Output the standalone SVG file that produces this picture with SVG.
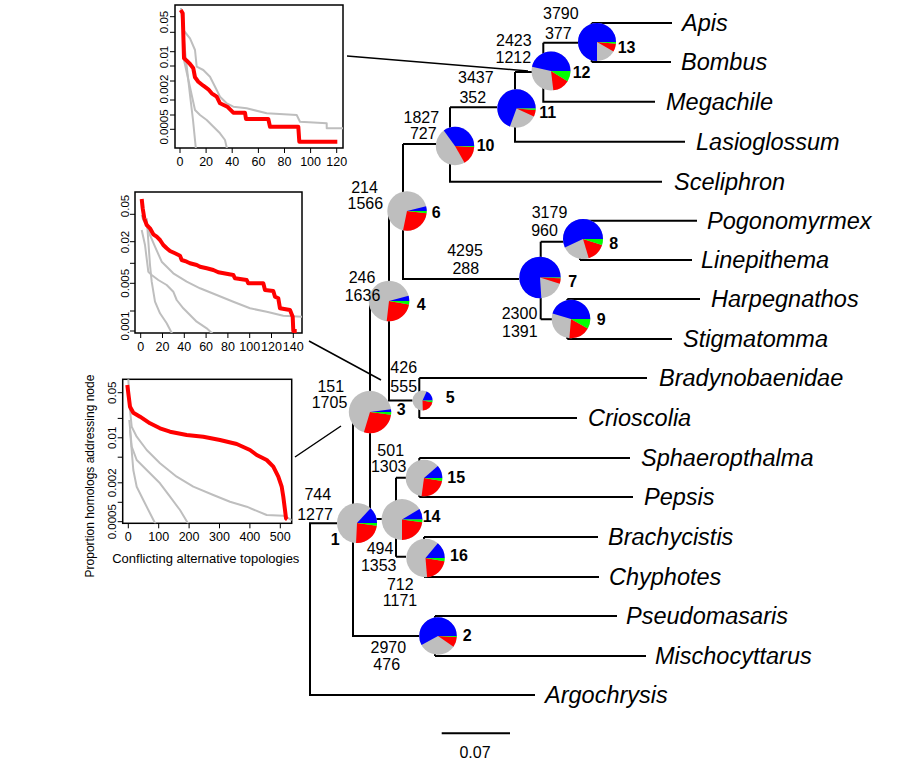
<svg xmlns="http://www.w3.org/2000/svg" width="915" height="764" viewBox="0 0 915 764">
<style>
text{font-family:"Liberation Sans",Arial,sans-serif;fill:#000}
.n{font-size:16px;text-anchor:middle}
.id{font-size:16px;font-weight:bold}
.tip{font-size:23.5px;font-style:italic}
.ax{font-size:12.5px;text-anchor:middle}
.ay{font-size:11.5px;text-anchor:middle}
.edge{fill:none;stroke:#000;stroke-width:2}
.thin{fill:none;stroke:#000;stroke-width:1.5}
.box{fill:#fff;stroke:#000;stroke-width:1.5}
.tk{fill:none;stroke:#000;stroke-width:1}
.gc{fill:none;stroke:#bebebe;stroke-width:2;stroke-linejoin:round}
.rc{fill:none;stroke:#ff0000;stroke-width:4;stroke-linejoin:round}
.pg{fill:#bebebe}
.pb{fill:none;stroke:#0000ff}
.pr{fill:none;stroke:#ff0000}
.pn{fill:none;stroke:#00ff00}
</style>
<defs>
<clipPath id="c1"><rect x="175" y="5" width="168" height="143"/></clipPath>
<clipPath id="c2"><rect x="135" y="192" width="167" height="141"/></clipPath>
<clipPath id="c3"><rect x="122.7" y="379.3" width="169" height="144"/></clipPath>
</defs>
<rect width="915" height="764" fill="#fff"/>

<!-- insets -->
<g id="inset1">
<rect class="box" x="175" y="5" width="168" height="143"/>
<g clip-path="url(#c1)">
<polyline class="gc" points="181,8 183,30 186,60 190,95 193,120 196,150"/>
<polyline class="gc" points="183.3,30 190,38.3 195,50 196.7,66.7 203.3,70 210,76.7 216.7,90 220,96.7 226.7,103.3 233.3,106.7 246.7,108.3 266.7,113.3 296.7,115 300,121.7 326.7,123.3 326.7,128.3 345,128.3"/>
<polyline class="gc" points="184,60 195,110 200,115 206.7,120 211.7,125 220,133.3 225,140 227.3,150"/>
<polyline class="rc" points="180.7,10 182.7,13.3 184,58.3 186.7,60.7 190,64 193.3,68.3 195,77.3 198.3,81.7 203.3,85.7 208.3,89.3 211.7,93.3 216.7,96.7 220,103.3 227.3,106.7 233.3,112.7 245,112.7 246,119 268.3,119 270,126.7 298.3,126.7 299.3,141.7 337.3,141.7"/>
</g>
<path class="tk" d="M175,16.7h-5M175,32.3h-5M175,51.7h-5M175,66h-5M175,81h-5M175,100h-5M175,115h-5M175,129.3h-5M180,148v5M206.1,148v5M232.2,148v5M258.4,148v5M284.5,148v5M310.6,148v5M336.7,148v5"/>
<text class="ay" transform="translate(168,22) rotate(-90)">0.05</text>
<text class="ay" transform="translate(168,57) rotate(-90)">0.01</text>
<text class="ay" transform="translate(168,89) rotate(-90)">0.002</text>
<text class="ay" transform="translate(168,127) rotate(-90)">0.0005</text>
<text class="ax" x="180" y="166">0</text><text class="ax" x="206.1" y="166">20</text><text class="ax" x="232.2" y="166">40</text><text class="ax" x="258.4" y="166">60</text><text class="ax" x="284.5" y="166">80</text><text class="ax" x="310.6" y="166">100</text><text class="ax" x="336.7" y="166">120</text>
</g>

<g id="inset2">
<rect class="box" x="135" y="192" width="167" height="141"/>
<g clip-path="url(#c2)">
<polyline class="gc" points="141.7,215 143.3,220 146.7,225 150,235 155,246.7 161.7,261.7 173.3,273.3 186.7,281.7 200,288.3 216.7,295 233.3,301.7 250,308.3 266.7,311.7 283.3,315.7 303,316.7"/>
<polyline class="gc" points="141.7,230 145,245 148.3,271.7 151.7,275 158.3,280 166.7,285 173.3,291.7 176.7,300 183.3,308.3 196.7,321.7 206.7,328.3 215,336"/>
<polyline class="gc" points="146.7,218.3 150,265 151.7,281.7 155,301.7 160,313.3 166.7,323.3 173.3,336"/>
<polyline class="rc" points="141.7,199 142.7,208.3 144.3,218.3 146.7,225 150,228.3 153.3,234.3 156.7,236.7 160,240 163.3,245 166.7,248.3 170,251 175,253.3 180,255.7 181.7,260 186.7,261.7 190,263.3 196.7,265 200,266.7 206.7,268.3 213.3,270 218.3,272.3 233.3,275 235,278.3 246.7,280 248.3,283.3 263.3,283.3 265,290 273.3,291 275,296.7 278.3,298.3 280,308.3 290,310 292.7,316.7 293.3,331 296.7,331"/>
</g>
<path class="tk" d="M135,214.3h-5M135,241.7h-5M135,263.3h-5M135,283.3h-5M135,311h-5M135,331h-5M140.7,333v5M162.5,333v5M184.3,333v5M206.1,333v5M227.9,333v5M249.7,333v5M271.5,333v5M293.3,333v5"/>
<text class="ay" transform="translate(129,206) rotate(-90)">0.05</text>
<text class="ay" transform="translate(129,242) rotate(-90)">0.02</text>
<text class="ay" transform="translate(129,283.3) rotate(-90)">0.005</text>
<text class="ay" transform="translate(129,326) rotate(-90)">0.001</text>
<text class="ax" x="140.7" y="351">0</text><text class="ax" x="162.5" y="351">20</text><text class="ax" x="184.3" y="351">40</text><text class="ax" x="206.1" y="351">60</text><text class="ax" x="227.9" y="351">80</text><text class="ax" x="249.7" y="351">100</text><text class="ax" x="271.5" y="351">120</text><text class="ax" x="293.3" y="351">140</text>
</g>

<g id="inset3">
<rect class="box" x="122.7" y="379.3" width="169" height="144"/>
<g clip-path="url(#c3)">
<polyline class="gc" points="128.3,378 129.3,403.3 131.7,426.7 136.7,436.7 146.7,450 160,463.3 176.7,476.7 193.3,486.7 213.3,495 230,501.7 246.7,506.7 266.7,515 283.3,515.7 292,520"/>
<polyline class="gc" points="129.3,420 131.7,446.7 136.7,460 146.7,470 160,483.3 170,496.7 180,510 189,525"/>
<polyline class="gc" points="130,430 133.3,470 136.7,486.7 143.3,500 150,513.3 156,525"/>
<polyline class="rc" points="127.3,385 130,406.7 133.3,412.7 140,416.7 150,423.3 160,428.3 170,431.7 186.7,435 203.3,436.7 220,440 236.7,444 250,450 256.7,455 266.7,460 273.3,466.7 278.3,476.7 281.7,486.7 283.3,496.7 285,510 286,518.3 287.3,519.3"/>
</g>
<path class="tk" d="M122.7,392.7h-5M122.7,418.4h-5M122.7,437.8h-5M122.7,457.2h-5M122.7,482.8h-5M122.7,502.3h-5M122.7,521.7h-5M128.3,523.3v5M158.7,523.3v5M189.1,523.3v5M219.5,523.3v5M249.9,523.3v5M280.3,523.3v5"/>
<text class="ay" transform="translate(116,392.7) rotate(-90)">0.05</text>
<text class="ay" transform="translate(116,437.8) rotate(-90)">0.01</text>
<text class="ay" transform="translate(116,482.8) rotate(-90)">0.002</text>
<text class="ay" transform="translate(116,521.7) rotate(-90)">0.0005</text>
<text class="ax" x="128.3" y="541">0</text><text class="ax" x="158.7" y="541">100</text><text class="ax" x="189.1" y="541">200</text><text class="ax" x="219.5" y="541">300</text><text class="ax" x="249.9" y="541">400</text><text class="ax" x="280.3" y="541">500</text>
<text style="font-size:13px;text-anchor:middle" x="205.8" y="563">Conflicting alternative topologies</text>
<text style="font-size:12px;text-anchor:middle" transform="translate(94,476) rotate(-90)">Proportion homologs addressing node</text>
</g>

<!-- connectors -->
<g id="edges">
<path class="thin" d="M347,56L528,71M309,341L381,380M295,457L341,426"/>
<path class="edge" d="M337,523.3H310V695H535
M353,412V636H419M353,412H370
M370,301V519H382M370,301H389
M389,211V400.5H412.5M389,211H407
M403,144V279H519M403,144H436
M450,107.3V181.7H662M450,107.3H497
M515,72V141.7H685M515,72H532
M543.3,42.7V101.7H655M543.3,42.7H578
M591.7,23V62M591.7,23H672M591.7,62H671
M540.7,241.7V319.3M540.7,241.7H564M540.7,319.3H552
M580,220.7V260M580,220.7H697M580,260H692
M567.3,299V339M567.3,299H700M567.3,339H672
M419.3,378V418M419.3,378H647M419.3,418H577
M396,477.7V556.7M396,477.7H406M396,556.7H406
M419.3,458V497M419.3,458H630M419.3,497H633
M424,537V577M424,537H598M424,577H599
M435,616V656M435,616H617M435,656H646
M441.7,733.3H510"/>
</g>

<!-- nodes -->
<g id="n13"><g transform="translate(597,42) scale(1,-1)"><circle class="pg" r="19"/><circle class="pb" r="9.5" stroke-width="19" pathLength="100" stroke-dasharray="75 200"/><circle class="pr" r="9.5" stroke-width="19" pathLength="100" stroke-dasharray="6.7 200" stroke-dashoffset="-91.7"/><circle class="pn" r="9.5" stroke-width="19" pathLength="100" stroke-dasharray="1.6 200" stroke-dashoffset="-98.4"/></g>
<text class="n" x="560.8" y="19.3">3790</text><text class="n" x="558.3" y="39.3">377</text><text class="id" x="617.7" y="53.3">13</text></g>

<g id="n12"><g transform="translate(551,71) scale(1,-1)"><circle class="pg" r="19.5"/><circle class="pb" r="9.75" stroke-width="19.5" pathLength="100" stroke-dasharray="46.4 200"/><circle class="pr" r="9.75" stroke-width="19.5" pathLength="100" stroke-dasharray="14.2 200" stroke-dashoffset="-77"/><circle class="pn" r="9.75" stroke-width="19.5" pathLength="100" stroke-dasharray="8.9 200" stroke-dashoffset="-91.1"/></g>
<text class="n" x="513.8" y="46">2423</text><text class="n" x="513.3" y="62.7">1212</text><text class="id" x="572.7" y="78.3">12</text></g>

<g id="n11"><g transform="translate(516.5,108.5) scale(1,-1)"><circle class="pg" r="19.2"/><circle class="pb" r="9.6" stroke-width="19.2" pathLength="100" stroke-dasharray="69.4 200"/><circle class="pr" r="9.6" stroke-width="19.2" pathLength="100" stroke-dasharray="5.6 200" stroke-dashoffset="-93.1"/><circle class="pn" r="9.6" stroke-width="19.2" pathLength="100" stroke-dasharray="1.3 200" stroke-dashoffset="-98.7"/></g>
<text class="n" x="475.8" y="83.3">3437</text><text class="n" x="472.8" y="103.3">352</text><text class="id" x="539.3" y="118.3">11</text></g>

<g id="n10"><g transform="translate(455,146) scale(1,-1)"><circle class="pg" r="19.2"/><circle class="pb" r="9.6" stroke-width="19.2" pathLength="100" stroke-dasharray="35 200"/><circle class="pr" r="9.6" stroke-width="19.2" pathLength="100" stroke-dasharray="15.8 200" stroke-dashoffset="-83.3"/><circle class="pn" r="9.6" stroke-width="19.2" pathLength="100" stroke-dasharray="0.9 200" stroke-dashoffset="-99.1"/></g>
<text class="n" x="421.3" y="122.7">1827</text><text class="n" x="423.3" y="138.5">727</text><text class="id" x="476.7" y="150.7">10</text></g>

<g id="n6"><g transform="translate(407,211) scale(1,-1)"><circle class="pg" r="19.7"/><circle class="pb" r="9.85" stroke-width="19.7" pathLength="100" stroke-dasharray="3.9 200"/><circle class="pr" r="9.85" stroke-width="19.7" pathLength="100" stroke-dasharray="26.4 200" stroke-dashoffset="-71.7"/><circle class="pn" r="9.85" stroke-width="19.7" pathLength="100" stroke-dasharray="1.9 200" stroke-dashoffset="-98.1"/></g>
<text class="n" x="364.5" y="192.5">214</text><text class="n" x="365.3" y="208.5">1566</text><text class="id" x="431.7" y="217.7">6</text></g>

<g id="n4"><g transform="translate(389,301) scale(1,-1)"><circle class="pg" r="20.3"/><circle class="pb" r="10.15" stroke-width="20.3" pathLength="100" stroke-dasharray="4.2 200"/><circle class="pr" r="10.15" stroke-width="20.3" pathLength="100" stroke-dasharray="24.1 200" stroke-dashoffset="-73.1"/><circle class="pn" r="10.15" stroke-width="20.3" pathLength="100" stroke-dasharray="2.8 200" stroke-dashoffset="-97.2"/></g>
<text class="n" x="362" y="283">246</text><text class="n" x="362.5" y="300.5">1636</text><text class="id" x="416.7" y="310">4</text></g>

<g id="n7"><g transform="translate(540,277.5) scale(1,-1)"><circle class="pg" r="20.7"/><circle class="pb" r="10.35" stroke-width="20.7" pathLength="100" stroke-dasharray="76.1 200"/><circle class="pr" r="10.35" stroke-width="20.7" pathLength="100" stroke-dasharray="4.4 200" stroke-dashoffset="-95"/><circle class="pn" r="10.35" stroke-width="20.7" pathLength="100" stroke-dasharray="0.6 200" stroke-dashoffset="-99.4"/></g>
<text class="n" x="465" y="256">4295</text><text class="n" x="465.8" y="274.3">288</text><text class="id" x="568.3" y="287.3">7</text></g>

<g id="n8"><g transform="translate(583,239) scale(1,-1)"><circle class="pg" r="20"/><circle class="pb" r="10" stroke-width="20" pathLength="100" stroke-dasharray="56.9 200"/><circle class="pr" r="10" stroke-width="20" pathLength="100" stroke-dasharray="15.3 200" stroke-dashoffset="-79.7"/><circle class="pn" r="10" stroke-width="20" pathLength="100" stroke-dasharray="5 200" stroke-dashoffset="-95"/></g>
<text class="n" x="549.5" y="218.3">3179</text><text class="n" x="544.5" y="236">960</text><text class="id" x="609.3" y="249.3">8</text></g>

<g id="n9"><g transform="translate(571,319) scale(1,-1)"><circle class="pg" r="19.3"/><circle class="pb" r="9.65" stroke-width="19.3" pathLength="100" stroke-dasharray="45.3 200"/><circle class="pr" r="9.65" stroke-width="19.3" pathLength="100" stroke-dasharray="18.1 200" stroke-dashoffset="-73.6"/><circle class="pn" r="9.65" stroke-width="19.3" pathLength="100" stroke-dasharray="8.3 200" stroke-dashoffset="-91.7"/></g>
<text class="n" x="519.5" y="319.3">2300</text><text class="n" x="519.8" y="337.3">1391</text><text class="id" x="596.7" y="325">9</text></g>

<g id="n5"><g transform="translate(422.5,400.5) scale(1,-1)"><circle class="pg" r="10"/><circle class="pb" r="5" stroke-width="10" pathLength="100" stroke-dasharray="18 200"/><circle class="pr" r="5" stroke-width="10" pathLength="100" stroke-dasharray="21.6 200" stroke-dashoffset="-75.6"/><circle class="pn" r="5" stroke-width="10" pathLength="100" stroke-dasharray="2.8 200" stroke-dashoffset="-97.2"/></g>
<text class="n" x="403.7" y="373.3">426</text><text class="n" x="403.7" y="391.7">555</text><text class="id" x="445.7" y="403.3">5</text></g>

<g id="n3"><g transform="translate(370,412) scale(1,-1)"><circle class="pg" r="21.2"/><circle class="pb" r="10.6" stroke-width="21.2" pathLength="100" stroke-dasharray="2.2 200"/><circle class="pr" r="10.6" stroke-width="21.2" pathLength="100" stroke-dasharray="27.5 200" stroke-dashoffset="-70.3"/><circle class="pn" r="10.6" stroke-width="21.2" pathLength="100" stroke-dasharray="2.2 200" stroke-dashoffset="-97.8"/></g>
<text class="n" x="330.8" y="391.7">151</text><text class="n" x="329.5" y="408.3">1705</text><text class="id" x="396.7" y="415">3</text></g>

<g id="n15"><g transform="translate(424,478) scale(1,-1)"><circle class="pg" r="18.3"/><circle class="pb" r="9.15" stroke-width="18.3" pathLength="100" stroke-dasharray="11.4 200"/><circle class="pr" r="9.15" stroke-width="18.3" pathLength="100" stroke-dasharray="24.4 200" stroke-dashoffset="-72.8"/><circle class="pn" r="9.15" stroke-width="18.3" pathLength="100" stroke-dasharray="2.8 200" stroke-dashoffset="-97.2"/></g>
<text class="n" x="390.7" y="456">501</text><text class="n" x="388.7" y="472">1303</text><text class="id" x="447.3" y="483.3">15</text></g>

<g id="n1"><g transform="translate(357,523) scale(1,-1)"><circle class="pg" r="20"/><circle class="pb" r="10" stroke-width="20" pathLength="100" stroke-dasharray="13.1 200"/><circle class="pr" r="10" stroke-width="20" pathLength="100" stroke-dasharray="23.6 200" stroke-dashoffset="-74.2"/><circle class="pn" r="10" stroke-width="20" pathLength="100" stroke-dasharray="2.2 200" stroke-dashoffset="-97.8"/></g>
<text class="n" x="317.8" y="500">744</text><text class="n" x="315" y="520">1277</text><text class="id" x="330.7" y="545">1</text></g>

<g id="n14"><g transform="translate(402,519.5) scale(1,-1)"><circle class="pg" r="20.4"/><circle class="pb" r="10.2" stroke-width="20.4" pathLength="100" stroke-dasharray="8.6 200"/><circle class="pr" r="10.2" stroke-width="20.4" pathLength="100" stroke-dasharray="22.8 200" stroke-dashoffset="-75"/><circle class="pn" r="10.2" stroke-width="20.4" pathLength="100" stroke-dasharray="2.2 200" stroke-dashoffset="-97.8"/></g>
<text class="n" x="380" y="554">494</text><text class="n" x="378.7" y="570.7">1353</text><text class="id" x="422.7" y="521.7">14</text></g>

<g id="n16"><g transform="translate(425.5,558) scale(1,-1)"><circle class="pg" r="19.2"/><circle class="pb" r="9.6" stroke-width="19.2" pathLength="100" stroke-dasharray="13.9 200"/><circle class="pr" r="9.6" stroke-width="19.2" pathLength="100" stroke-dasharray="20.8 200" stroke-dashoffset="-76.4"/><circle class="pn" r="9.6" stroke-width="19.2" pathLength="100" stroke-dasharray="2.8 200" stroke-dashoffset="-97.2"/></g>
<text class="n" x="400.3" y="590">712</text><text class="n" x="400" y="606">1171</text><text class="id" x="450" y="561">16</text></g>

<g id="n2"><g transform="translate(438,636) scale(1,-1)"><circle class="pg" r="18.8"/><circle class="pb" r="9.4" stroke-width="18.8" pathLength="100" stroke-dasharray="58.1 200"/><circle class="pr" r="9.4" stroke-width="18.8" pathLength="100" stroke-dasharray="8.9 200" stroke-dashoffset="-90.3"/><circle class="pn" r="9.4" stroke-width="18.8" pathLength="100" stroke-dasharray="0.8 200" stroke-dashoffset="-99.2"/></g>
<text class="n" x="388.3" y="653.3">2970</text><text class="n" x="386.7" y="670">476</text><text class="id" x="462.7" y="640.7">2</text></g>

<!-- tips -->
<g id="tips">
<text class="tip" x="682" y="31">Apis</text>
<text class="tip" x="681" y="70">Bombus</text>
<text class="tip" x="666" y="110">Megachile</text>
<text class="tip" x="696" y="150">Lasioglossum</text>
<text class="tip" x="674" y="190">Sceliphron</text>
<text class="tip" x="707" y="229">Pogonomyrmex</text>
<text class="tip" x="701" y="268">Linepithema</text>
<text class="tip" x="711" y="307">Harpegnathos</text>
<text class="tip" x="683" y="347">Stigmatomma</text>
<text class="tip" x="659" y="386">Bradynobaenidae</text>
<text class="tip" x="588" y="426">Crioscolia</text>
<text class="tip" x="641" y="466">Sphaeropthalma</text>
<text class="tip" x="644" y="505">Pepsis</text>
<text class="tip" x="608" y="545">Brachycistis</text>
<text class="tip" x="609" y="585">Chyphotes</text>
<text class="tip" x="626" y="624">Pseudomasaris</text>
<text class="tip" x="655" y="664">Mischocyttarus</text>
<text class="tip" x="545" y="703">Argochrysis</text>
</g>
<text class="n" x="475" y="758">0.07</text>
</svg>
